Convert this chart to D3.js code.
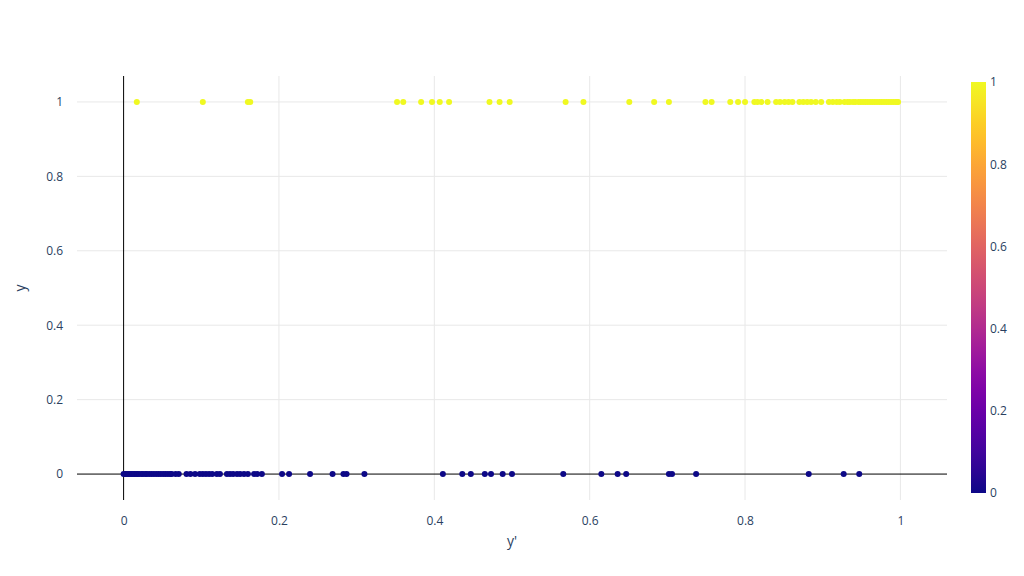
<!DOCTYPE html>
<html>
<head>
<meta charset="utf-8">
<script src="https://cdn.jsdelivr.net/npm/d3@7.8.5/dist/d3.min.js"></script>
<style>
  body { margin: 0; background: white; }
  text { font-family: "Open Sans", sans-serif; }
</style>
</head>
<body>
<div id="chart"></div>
<script>
// y' values for samples whose true label is 1
const positives = [
  0.017, 0.102, 0.160, 0.163, 0.352, 0.360, 0.383, 0.397, 0.407, 0.419,
  0.471, 0.484, 0.497, 0.569, 0.592, 0.651, 0.683, 0.702, 0.749, 0.757,
  0.781, 0.791, 0.800, 0.812, 0.816, 0.821, 0.829, 0.840, 0.845, 0.851,
  0.856, 0.861, 0.870, 0.875, 0.880, 0.885, 0.891, 0.898, 0.908, 0.913,
  0.918, 0.922, 0.928, 0.932, 0.935, 0.939, 0.942, 0.946, 0.949, 0.952,
  0.955, 0.958, 0.961, 0.964, 0.967, 0.970, 0.973, 0.976, 0.979, 0.982,
  0.985, 0.988, 0.991, 0.994, 0.996, 0.997
]
// y' values for samples whose true label is 0
const negatives = [
  0.000, 0.002, 0.004, 0.006, 0.008, 0.010, 0.012, 0.014, 0.016, 0.018,
  0.020, 0.023, 0.025, 0.028, 0.030, 0.033, 0.036, 0.039, 0.042, 0.045,
  0.048, 0.051, 0.054, 0.057, 0.060, 0.062, 0.067, 0.071, 0.081, 0.086,
  0.092, 0.098, 0.102, 0.106, 0.110, 0.114, 0.120, 0.124, 0.133, 0.137,
  0.141, 0.146, 0.150, 0.155, 0.160, 0.168, 0.172, 0.178, 0.204, 0.213,
  0.240, 0.269, 0.283, 0.287, 0.310, 0.411, 0.436, 0.447, 0.465, 0.473,
  0.488, 0.500, 0.566, 0.615, 0.636, 0.647, 0.702, 0.706, 0.737, 0.882,
  0.927, 0.947
]
const xTicks = [0, 0.2, 0.4, 0.6, 0.8, 1]
const yTicks = [0, 0.2, 0.4, 0.6, 0.8, 1]
const colorTicks = [0, 0.2, 0.4, 0.6, 0.8, 1]

const width = 1024, height = 576
const plotLeft = 77, plotRight = 947, plotTop = 76, plotBottom = 500
const textColor = "#2a3f5f"
const gridColor = "#e8e8e8"

const points = [
  ...negatives.map(x => ({x, y: 0})),
  ...positives.map(x => ({x, y: 1}))
]

const x = d3.scaleLinear().domain([-0.06, 1.06]).range([plotLeft, plotRight])
const y = d3.scaleLinear().domain([-0.0697, 1.0697]).range([plotBottom, plotTop])
const color = d3.scaleSequential(d3.interpolatePlasma).domain([0, 1])

const svg = d3.select("#chart").append("svg")
  .attr("width", width)
  .attr("height", height)

// grid
svg.append("g")
  .selectAll("line")
  .data(xTicks.filter(d => d !== 0))
  .join("line")
    .attr("x1", d => x(d)).attr("x2", d => x(d))
    .attr("y1", plotTop).attr("y2", plotBottom)
    .attr("stroke", gridColor)
svg.append("g")
  .selectAll("line")
  .data(yTicks.filter(d => d !== 0))
  .join("line")
    .attr("x1", plotLeft).attr("x2", plotRight)
    .attr("y1", d => y(d)).attr("y2", d => y(d))
    .attr("stroke", gridColor)

// zero lines
svg.append("line")
  .attr("x1", x(0)).attr("x2", x(0))
  .attr("y1", plotTop).attr("y2", plotBottom)
  .attr("stroke", "black")
svg.append("line")
  .attr("x1", plotLeft).attr("x2", plotRight)
  .attr("y1", y(0)).attr("y2", y(0))
  .attr("stroke", "black")

// axes
const xAxis = svg.append("g")
  .attr("transform", `translate(0,${plotBottom})`)
  .call(d3.axisBottom(x).tickValues(xTicks).tickSize(0).tickPadding(16).tickFormat(d3.format("~g")))
const yAxis = svg.append("g")
  .attr("transform", `translate(${plotLeft},0)`)
  .call(d3.axisLeft(y).tickValues(yTicks).tickSize(0).tickPadding(14).tickFormat(d3.format("~g")))
for (const g of [xAxis, yAxis]) {
  g.select(".domain").remove()
  g.selectAll("text")
    .attr("fill", textColor)
    .style("font-size", "12px")
    .style("font-family", "'Open Sans', sans-serif")
}

svg.append("text")
  .attr("x", (plotLeft + plotRight) / 2)
  .attr("y", 546)
  .attr("text-anchor", "middle")
  .attr("fill", textColor)
  .style("font-size", "14px")
  .text("y'")
svg.append("text")
  .attr("transform", `translate(25,${(plotTop + plotBottom) / 2}) rotate(-90)`)
  .attr("text-anchor", "middle")
  .attr("fill", textColor)
  .style("font-size", "14px")
  .text("y")

// markers
svg.append("g")
  .selectAll("circle")
  .data(points)
  .join("circle")
    .attr("cx", d => x(d.x))
    .attr("cy", d => y(d.y))
    .attr("r", 3)
    .attr("fill", d => color(d.y))

// colorbar
const cbTop = 82, cbBottom = 493, cbLeft = 971, cbWidth = 15
const cb = d3.scaleLinear().domain([0, 1]).range([cbBottom, cbTop])
const grad = svg.append("defs").append("linearGradient")
  .attr("id", "plasma")
  .attr("x1", 0).attr("y1", 1).attr("x2", 0).attr("y2", 0)
grad.selectAll("stop")
  .data(d3.range(0, 1.0001, 0.05))
  .join("stop")
    .attr("offset", d => d)
    .attr("stop-color", d => color(d))
svg.append("rect")
  .attr("x", cbLeft).attr("y", cbTop)
  .attr("width", cbWidth).attr("height", cbBottom - cbTop)
  .attr("fill", "url(#plasma)")
const cbAxis = svg.append("g")
  .attr("transform", `translate(${cbLeft + cbWidth},0)`)
  .call(d3.axisRight(cb).tickValues(colorTicks).tickSize(0).tickPadding(4).tickFormat(d3.format("~g")))
cbAxis.select(".domain").remove()
cbAxis.selectAll("text")
  .attr("fill", textColor)
  .style("font-size", "12px")
  .style("font-family", "'Open Sans', sans-serif")
</script>
</body>
</html>
